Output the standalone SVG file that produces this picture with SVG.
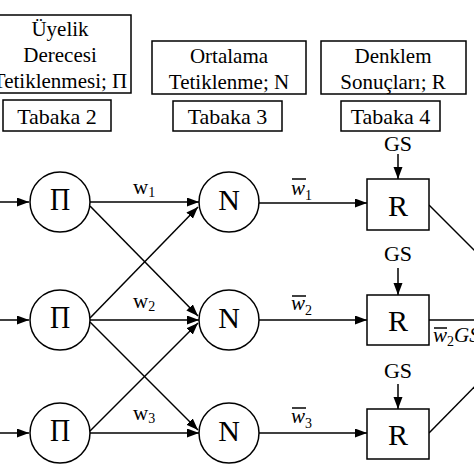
<svg xmlns="http://www.w3.org/2000/svg" width="474" height="474" viewBox="0 0 474 474">
<style>
text{font-family:"Liberation Serif","Times New Roman",serif;fill:#000}
.lbl{font-size:21px;text-anchor:middle}
.tab{font-size:22px;text-anchor:middle}
.box{fill:#fff;stroke:#000;stroke-width:1.5}
.ln{fill:none;stroke:#000;stroke-width:1.5}
.sym{font-size:30px;text-anchor:middle}
.pi{font-size:28px;text-anchor:middle}
.w{font-size:21px}
.wi{font-size:21px;font-style:italic}
.sub{font-size:14px}
.gs{font-size:22px;text-anchor:middle}
</style>
<defs>
<marker id="ah" markerUnits="userSpaceOnUse" markerWidth="13" markerHeight="10" refX="12" refY="4.5" orient="auto">
<path d="M0,0 L12,4.5 L0,9 Z" fill="#000"/>
</marker>
</defs>
<rect width="474" height="474" fill="#fff"/>

<g id="header1">
<rect class="box" x="-12" y="15" width="143" height="78"/>
<text class="lbl" x="60" y="36">Üyelik</text>
<text class="lbl" x="60" y="62">Derecesi</text>
<text class="lbl" x="60" y="88">Tetiklenmesi; Π</text>
</g>
<g id="tabaka2">
<rect class="box" x="3" y="100" width="108" height="31"/>
<text class="tab" x="57" y="124">Tabaka 2</text>
</g>
<g id="header2">
<rect class="box" x="152" y="41" width="154" height="53"/>
<text class="lbl" x="229" y="63">Ortalama</text>
<text class="lbl" x="229" y="89">Tetiklenme; N</text>
</g>
<g id="tabaka3">
<rect class="box" x="173" y="101" width="109" height="30"/>
<text class="tab" x="227.5" y="124">Tabaka 3</text>
</g>
<g id="header3">
<rect class="box" x="321" y="41" width="145" height="53"/>
<text class="lbl" x="393" y="63">Denklem</text>
<text class="lbl" x="393" y="89">Sonuçları; R</text>
</g>
<g id="tabaka4">
<rect class="box" x="341" y="101" width="99" height="30"/>
<text class="tab" x="390.5" y="124">Tabaka 4</text>
</g>

<g id="connectors">
<line class="ln" x1="0" y1="202" x2="29" y2="202" marker-end="url(#ah)"/>
<line class="ln" x1="0" y1="320" x2="29" y2="320" marker-end="url(#ah)"/>
<line class="ln" x1="0" y1="433" x2="29" y2="433" marker-end="url(#ah)"/>
<line class="ln" x1="90" y1="202" x2="199" y2="202" marker-end="url(#ah)"/>
<line class="ln" x1="90" y1="320" x2="199" y2="320" marker-end="url(#ah)"/>
<line class="ln" x1="90" y1="433" x2="199" y2="433" marker-end="url(#ah)"/>
<line class="ln" x1="90" y1="206" x2="198" y2="316" marker-end="url(#ah)"/>
<line class="ln" x1="90" y1="318" x2="198" y2="207" marker-end="url(#ah)"/>
<line class="ln" x1="90" y1="322" x2="198" y2="430" marker-end="url(#ah)"/>
<line class="ln" x1="90" y1="431" x2="198" y2="323" marker-end="url(#ah)"/>
<line class="ln" x1="259" y1="203" x2="367" y2="203" marker-end="url(#ah)"/>
<line class="ln" x1="259" y1="320" x2="367" y2="320" marker-end="url(#ah)"/>
<line class="ln" x1="259" y1="433" x2="367" y2="433" marker-end="url(#ah)"/>
<line class="ln" x1="398" y1="154" x2="398" y2="179" marker-end="url(#ah)"/>
<line class="ln" x1="398" y1="268" x2="398" y2="295" marker-end="url(#ah)"/>
<line class="ln" x1="398" y1="384" x2="398" y2="409" marker-end="url(#ah)"/>
<line class="ln" x1="429" y1="205" x2="490" y2="266"/>
<line class="ln" x1="429" y1="320" x2="480" y2="320"/>
<line class="ln" x1="429" y1="433" x2="490" y2="371"/>
</g>

<g id="pi1"><circle class="box" cx="60" cy="202" r="30"/><text class="pi" transform="translate(60,210) scale(1,1.12)">Π</text></g>
<g id="pi2"><circle class="box" cx="60" cy="320" r="30"/><text class="pi" transform="translate(60,328) scale(1,1.12)">Π</text></g>
<g id="pi3"><circle class="box" cx="60" cy="433" r="30"/><text class="pi" transform="translate(60,441) scale(1,1.12)">Π</text></g>
<g id="n1"><circle class="box" cx="229" cy="202" r="30"/><text class="sym" x="229" y="210">N</text></g>
<g id="n2"><circle class="box" cx="229" cy="320" r="30"/><text class="sym" x="229" y="328">N</text></g>
<g id="n3"><circle class="box" cx="229" cy="433" r="30"/><text class="sym" x="229" y="441">N</text></g>
<g id="r1"><rect class="box" x="367" y="179" width="62" height="51"/><text class="sym" x="398" y="216">R</text></g>
<g id="r2"><rect class="box" x="367" y="295" width="62" height="50"/><text class="sym" x="398" y="331">R</text></g>
<g id="r3"><rect class="box" x="367" y="409" width="62" height="50"/><text class="sym" x="398" y="445">R</text></g>

<g id="labels">
<text class="gs" x="398" y="151">GS</text>
<text class="gs" x="398" y="261">GS</text>
<text class="gs" x="398" y="378">GS</text>
<text class="w" x="133" y="194">w<tspan class="sub" dy="3">1</tspan></text>
<text class="w" x="133" y="308">w<tspan class="sub" dy="3">2</tspan></text>
<text class="w" x="133" y="420">w<tspan class="sub" dy="3">3</tspan></text>
<text class="wi" x="291" y="195">w<tspan class="sub" font-style="normal" dy="5">1</tspan></text>
<line class="ln" x1="292" y1="179" x2="306" y2="179" stroke-width="1.2"/>
<text class="wi" x="291" y="310">w<tspan class="sub" font-style="normal" dy="5">2</tspan></text>
<line class="ln" x1="292" y1="296" x2="306" y2="296" stroke-width="1.2"/>
<text class="wi" x="291" y="423">w<tspan class="sub" font-style="normal" dy="5">3</tspan></text>
<line class="ln" x1="292" y1="408" x2="306" y2="408" stroke-width="1.2"/>
<text class="wi" x="433" y="342">w<tspan class="sub" font-style="normal" dy="4">2</tspan><tspan dy="-4">GS</tspan></text>
<line class="ln" x1="434" y1="328" x2="447" y2="328" stroke-width="1.2"/>
</g>
</svg>
